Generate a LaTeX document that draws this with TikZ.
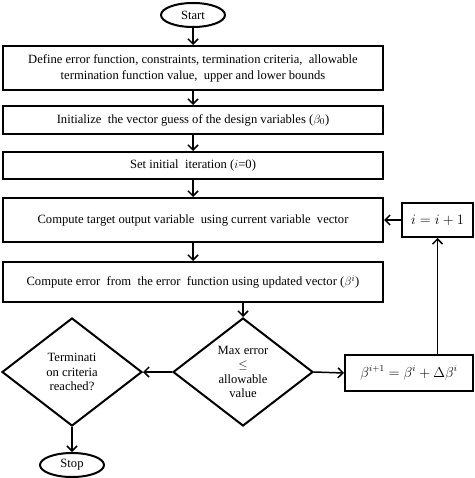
\documentclass[tikz,border=0pt]{standalone}
\usepackage{fontspec}
\setmainfont{Liberation Serif}
\usetikzlibrary{arrows.meta,positioning,shapes.geometric}

\begin{document}
\begin{tikzpicture}[x=1pt,y=-1pt,
    proc/.style={rectangle,draw,line width=2pt,minimum width=380pt,align=center,font=\fontsize{12.6}{16}\selectfont},
    term/.style={ellipse,draw,line width=2pt,minimum width=64pt,minimum height=24pt,inner sep=0pt,font=\fontsize{12.6}{16}\selectfont},
    dec/.style={diamond,draw,line width=2pt,minimum width=140pt,minimum height=108pt,inner sep=0pt,align=center,font=\fontsize{12.6}{14.5}\selectfont},
    arr/.style={-{Straight Barb[length=5pt,width=10pt]},line width=1.5pt},
]
\useasboundingbox (0,0) rectangle (474,478);

% Main column
\node[term] (start) at (193,15) {Start};
\node[proc,minimum height=44pt] (define) at (193,68) {Define error function, constraints, termination criteria,~ allowable\\termination function value,~ upper and lower bounds};
\node[proc,minimum height=28pt] (init) at (193,120) {Initialize~ the vector guess of the design variables ($\beta_0$)};
\node[proc,minimum height=27pt] (setit) at (193,165.5) {Set initial~ iteration ($i$=0)};
\node[proc,minimum height=44pt] (target) at (193,220) {Compute target output variable~ using current variable~ vector};
\node[proc,minimum height=40pt] (error) at (193,282) {Compute error~ from~ the error~ function using updated vector ($\beta^i$)};

% Decisions
\node[dec] (maxerr) at (243,372) {Max error\\$\leq$\\allowable\\value};
\node[dec] (termc) at (72,372) {Terminati\\on criteria\\reached?};
\node[term] (stop) at (72,465) {Stop};

% Update loop (right)
\node[proc,minimum width=128pt,minimum height=36pt,font=\fontsize{13.5}{16}\selectfont] (update) at (409,373) {$\beta^{i+1} = \beta^{i} + \Delta\beta^{i}$};
\node[proc,minimum width=71pt,minimum height=34pt,font=\fontsize{13.5}{16}\selectfont] (incr) at (437.5,220) {$i = i + 1$};

% Arrows
\draw[arr] (start) -- (define);
\draw[arr] (define) -- (init);
\draw[arr] (init) -- (setit);
\draw[arr] (setit) -- (target);
\draw[arr] (target) -- (error);
\draw[arr] (error.south -| maxerr.north) -- (maxerr.north);
\draw[arr] (maxerr.west) -- (termc.east);
\draw[arr] (maxerr.east) -- (update.west);
\draw[arr] (termc) -- (stop);
\draw[arr] (update.north -| incr) -- (incr.south);
\draw[arr] (incr.west) -- (target.east);
\end{tikzpicture}
\end{document}
